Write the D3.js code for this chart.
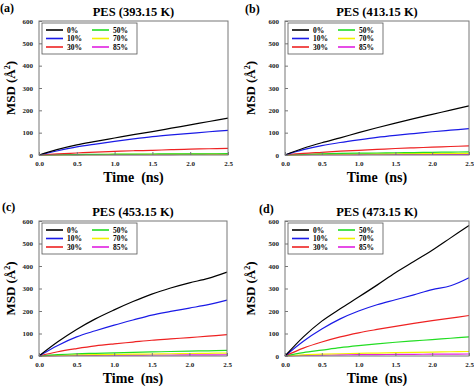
<!DOCTYPE html>
<html>
<head>
<meta charset="utf-8">
<script src="https://cdn.jsdelivr.net/npm/d3@7.9.0/dist/d3.min.js"></script>
<style>
  body { margin: 0; background: #fff; }
  svg { display: block; font-family: "Liberation Serif", "Times New Roman", serif; font-weight: bold; }
</style>
</head>
<body>
<svg id="chart" width="474" height="386"></svg>
<script>
// time points (ns)
const times = [0, 0.25, 0.5, 0.75, 1.0, 1.25, 1.5, 1.75, 2.0, 2.25, 2.5];
const seriesLabels = ['0%', '10%', '30%', '50%', '70%', '85%'];
const seriesColors = ['#000000', '#1a1ae6', '#ee2222', '#22dd22', '#f2f200', '#e020e0'];
const xTicks = [0, 0.5, 1.0, 1.5, 2.0, 2.5];
const yTicks = [0, 100, 200, 300, 400, 500, 600];
const panelTitles = ['PES (393.15 K)', 'PES (413.15 K)', 'PES (453.15 K)', 'PES (473.15 K)'];
const panelTags = ['(a)', '(b)', '(c)', '(d)'];

// MSD values (Å²), one row per concentration
const msd393 = [
  [0, 25, 45, 61, 76, 91, 105, 120, 135, 150, 165],
  [0, 19, 36, 49, 61, 72, 82, 90, 97, 104, 110],
  [0, 5, 9, 13, 16, 19, 21, 24, 26, 28, 30],
  [0, 1.5, 2, 3, 3.5, 4, 4.5, 5, 5, 5.5, 6],
  [0, 1, 1.5, 2, 2.5, 3, 3, 3.5, 3.5, 4, 4],
  [0, 1, 1, 1.5, 1.5, 2, 2, 2, 2.5, 2.5, 2.5]
];
const msd413 = [
  [0, 30, 55, 77, 100, 122, 143, 163, 182, 201, 220],
  [0, 24, 42, 56, 68, 79, 88, 96, 104, 111, 118],
  [0, 7, 12, 17, 21, 25, 29, 32, 35, 38, 41],
  [0, 3, 5, 7, 8, 9, 10, 11, 12, 13, 14],
  [0, 1.5, 3, 4, 4.5, 5, 5.5, 6, 6.5, 7, 7.5],
  [0, 1, 1.5, 2, 2, 2.5, 2.5, 3, 3, 3, 3]
];
const msd453 = [
  [0, 63, 118, 165, 205, 242, 275, 302, 325, 345, 373],
  [0, 47, 85, 112, 137, 160, 182, 198, 213, 228, 248],
  [0, 19, 33, 45, 54, 62, 70, 76, 82, 88, 95],
  [0, 6, 10, 12, 14, 16, 18, 20, 22, 23, 25],
  [0, 3, 5, 6, 7, 8, 9, 10, 11, 12, 13],
  [0, 1.5, 2.5, 3, 3.5, 4, 4.5, 4.5, 5, 5, 5.5]
];
const msd473 = [
  [0, 85, 155, 210, 262, 315, 370, 420, 470, 525, 580],
  [0, 66, 120, 165, 200, 228, 250, 272, 295, 312, 348],
  [0, 35, 62, 85, 103, 118, 132, 145, 157, 168, 180],
  [0, 15, 26, 37, 46, 54, 61, 67, 73, 79, 85],
  [0, 5, 8, 10, 12, 13, 15, 16, 17, 19, 20],
  [0, 3, 4, 5, 6, 6.5, 7, 7.5, 8, 8.5, 9]
];
const panelData = [msd393, msd413, msd453, msd473];

// panel boxes: left, top, right, bottom
const boxes = [
  { l: 39, t: 21, r: 228, b: 155, tagX: 0, tagY: 12, ylabX: 11 },
  { l: 285, t: 21, r: 469, b: 155, tagX: 245, tagY: 13, ylabX: 251 },
  { l: 39, t: 221, r: 227, b: 356, tagX: 2, tagY: 211, ylabX: 11 },
  { l: 285, t: 221, r: 469, b: 356, tagX: 259, tagY: 213, ylabX: 251 }
];

const svg = d3.select('#chart');
svg.append('rect').attr('width', 474).attr('height', 386).attr('fill', '#fff');

panelData.forEach((rows, p) => {
  const bx = boxes[p];
  const x = d3.scaleLinear().domain([0, 2.5]).range([bx.l, bx.r]);
  const y = d3.scaleLinear().domain([0, 600]).range([bx.b, bx.t]);
  const g = svg.append('g');

  // curves
  const line = d3.line()
    .x((d, i) => x(times[i]))
    .y(d => y(d))
    .curve(d3.curveCatmullRom.alpha(0.5));
  rows.slice().reverse().forEach((vals, ri) => {
    const i = rows.length - 1 - ri;
    g.append('path')
      .attr('d', line(vals))
      .attr('fill', 'none')
      .attr('stroke', seriesColors[i])
      .attr('stroke-width', 1.2);
  });

  // frame
  g.append('rect')
    .attr('x', bx.l).attr('y', bx.t)
    .attr('width', bx.r - bx.l).attr('height', bx.b - bx.t)
    .attr('fill', 'none').attr('stroke', '#777').attr('stroke-width', 1);

  // axes with inward ticks
  const xAxis = g.append('g')
    .attr('transform', `translate(0,${bx.b})`)
    .call(d3.axisBottom(x).tickValues(xTicks).tickFormat(d3.format('.1f')).tickSizeInner(-3).tickSizeOuter(0).tickPadding(6));
  const yAxis = g.append('g')
    .attr('transform', `translate(${bx.l},0)`)
    .call(d3.axisLeft(y).tickValues(yTicks).tickSizeInner(-3).tickSizeOuter(0).tickPadding(6));
  [xAxis, yAxis].forEach(a => {
    a.select('.domain').remove();
    a.selectAll('line').attr('stroke', '#777');
    a.selectAll('text')
      .attr('font-family', '"Liberation Serif", serif')
      .attr('font-weight', 'bold')
      .attr('font-size', 7)
      .attr('fill', '#222');
  });

  // titles
  g.append('text')
    .attr('x', (bx.l + bx.r) / 2).attr('y', bx.t - 5)
    .attr('text-anchor', 'middle').attr('font-size', 12.5)
    .text(panelTitles[p]);
  g.append('text')
    .attr('x', bx.tagX).attr('y', bx.tagY)
    .attr('font-size', 12)
    .text(panelTags[p]);
  g.append('text')
    .attr('x', (bx.l + bx.r) / 2).attr('y', bx.b + 27)
    .attr('text-anchor', 'middle').attr('font-size', 14)
    .attr('xml:space', 'preserve')
    .text('Time  (ns)');
  const yl = g.append('text')
    .attr('transform', `translate(${bx.ylabX + 4},${(bx.t + bx.b) / 2}) rotate(-90)`)
    .attr('text-anchor', 'middle').attr('font-size', 13);
  yl.append('tspan').text('MSD (Å');
  yl.append('tspan').attr('font-size', 8).attr('dy', -5).text('2');
  yl.append('tspan').attr('dy', 5).text(')');

  // legend
  const lx = bx.l + 3, ly = bx.t + 2;
  const leg = g.append('g');
  leg.append('rect')
    .attr('x', lx).attr('y', ly).attr('width', 95).attr('height', 31)
    .attr('fill', '#fff').attr('stroke', '#555').attr('stroke-width', 0.8);
  seriesLabels.forEach((lab, i) => {
    const col = Math.floor(i / 3), row = i % 3;
    const ox = lx + 4 + col * 46, oy = ly + 7 + row * 8.5;
    leg.append('line')
      .attr('x1', ox).attr('x2', ox + 17).attr('y1', oy).attr('y2', oy)
      .attr('stroke', seriesColors[i]).attr('stroke-width', 1.6);
    leg.append('text')
      .attr('x', ox + 21).attr('y', oy + 2.7)
      .attr('font-size', 7.5)
      .text(lab);
  });
});
</script>
</body>
</html>
